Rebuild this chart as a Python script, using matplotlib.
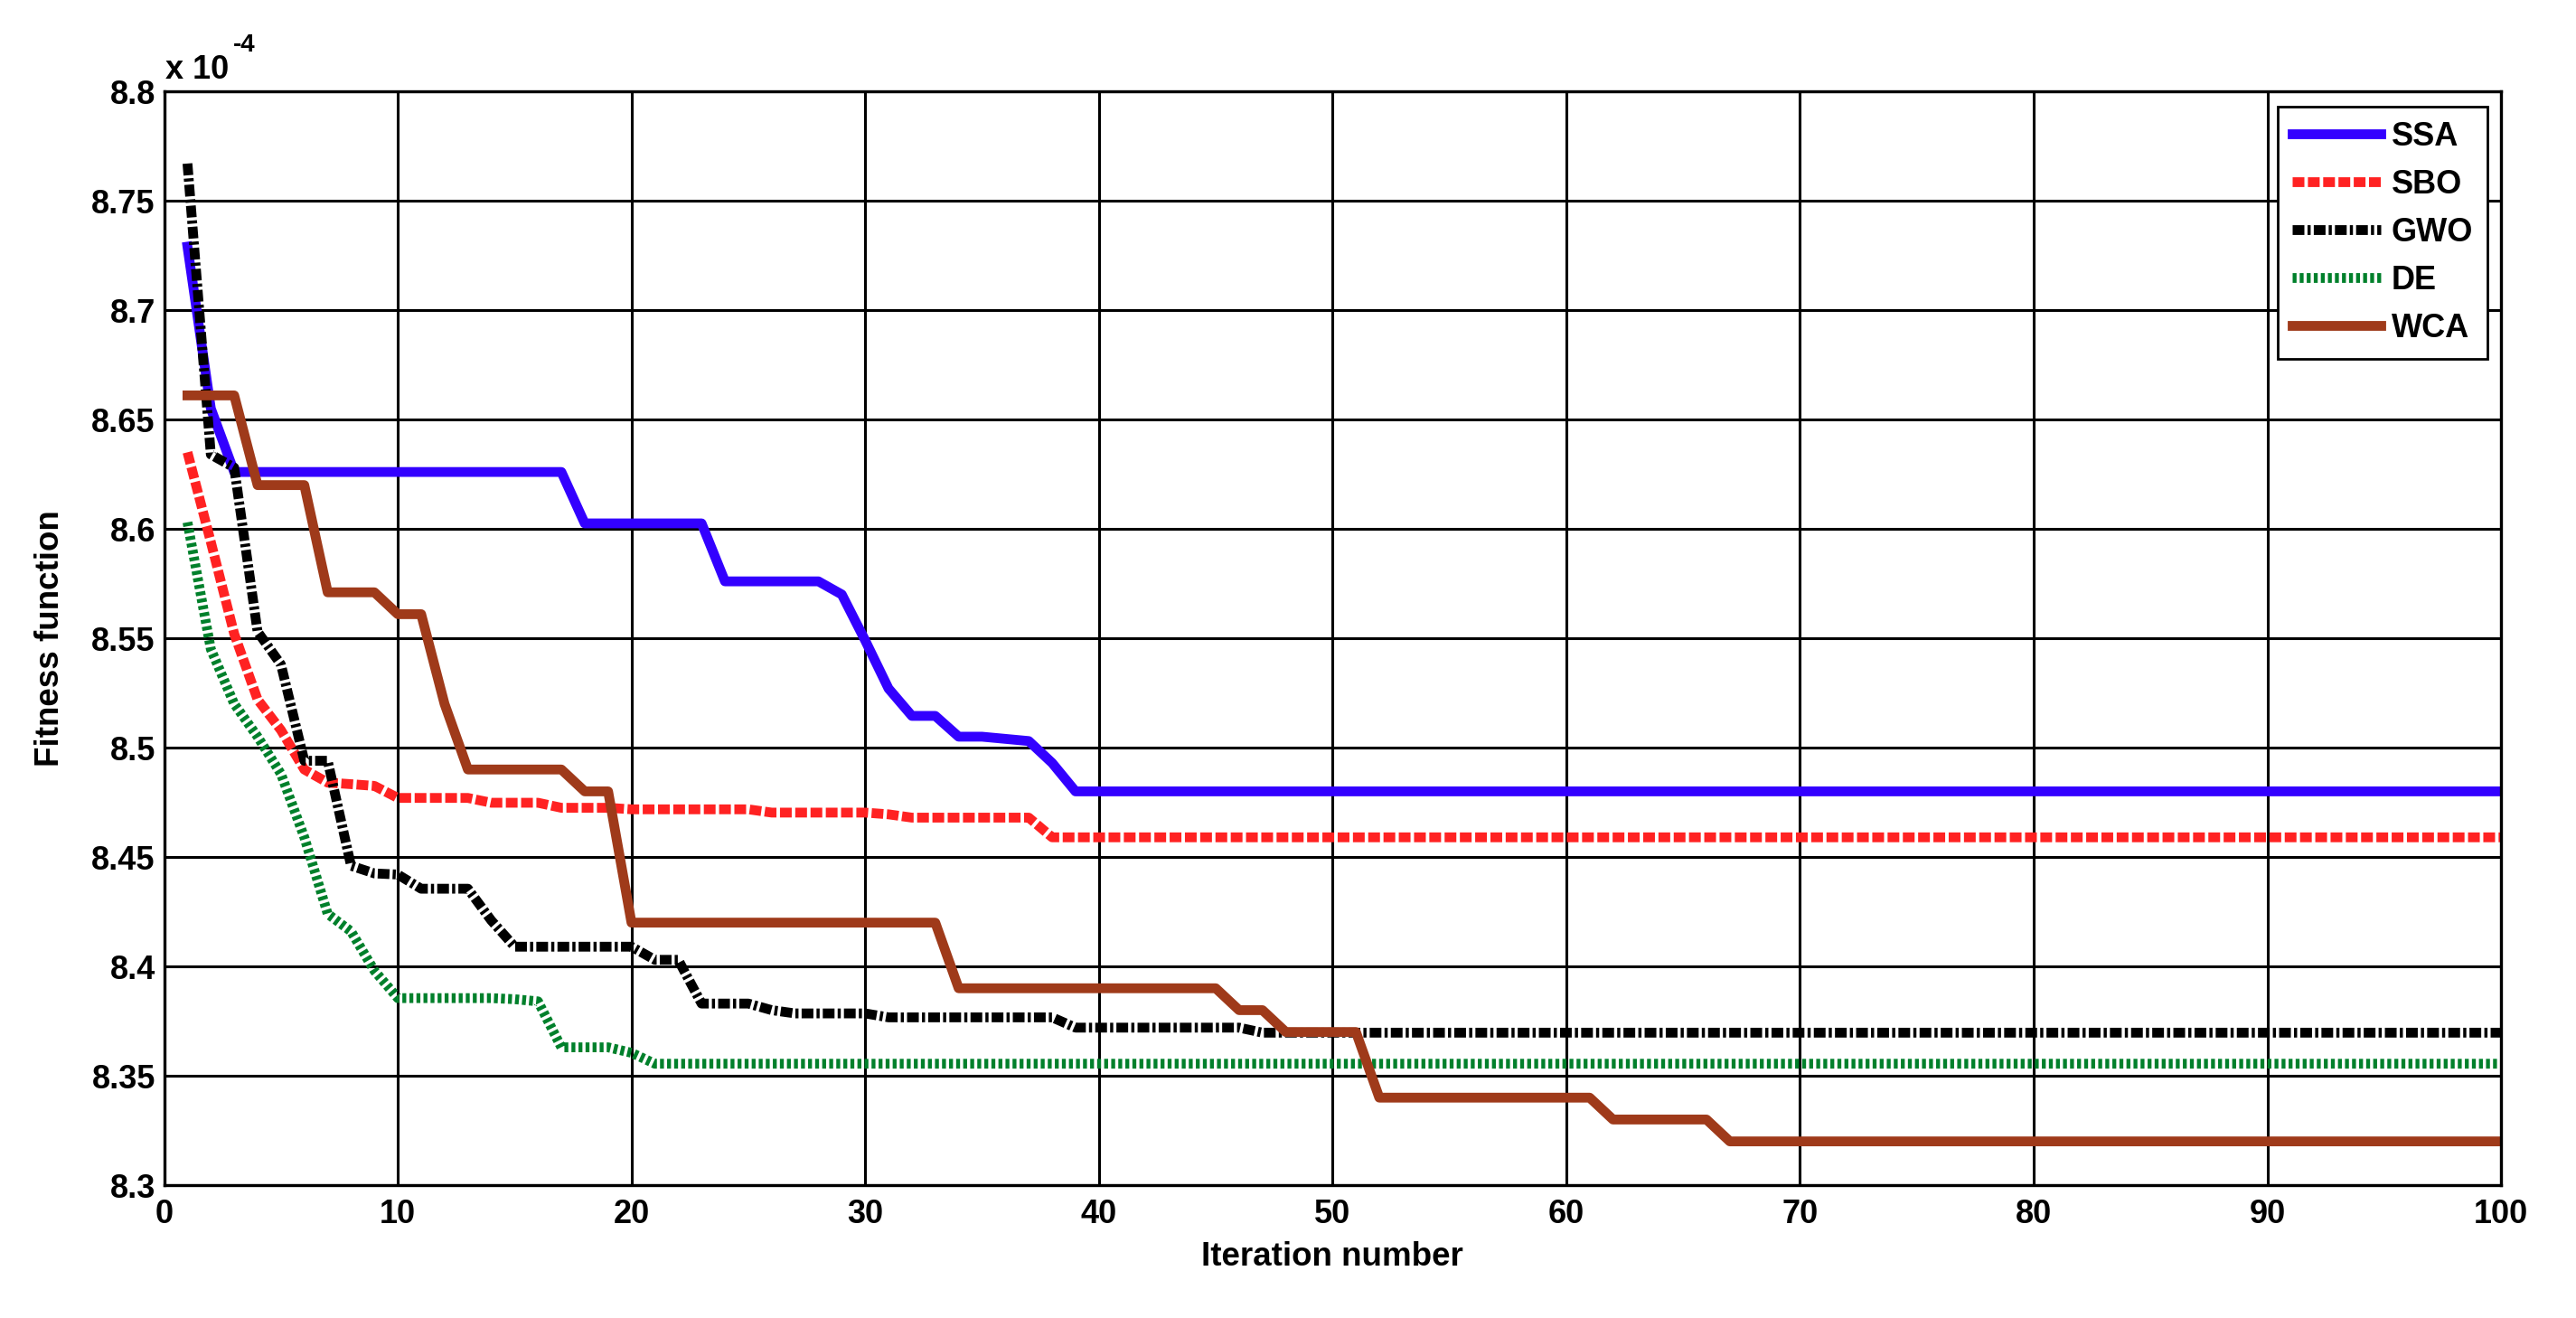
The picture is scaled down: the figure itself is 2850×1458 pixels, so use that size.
import matplotlib
matplotlib.use('Agg')
import matplotlib.pyplot as plt
from matplotlib.ticker import MultipleLocator, FuncFormatter

plt.rcParams['font.family'] = ['Liberation Sans', 'DejaVu Sans']
plt.rcParams['font.weight'] = 'bold'

# fitness values, in units of 1e-4, one per iteration (1..100)
iters = list(range(1, 101))

ssa = ([8.729, 8.655] + [8.626] * 15 + [8.6025] * 6 + [8.576] * 5
       + [8.570, 8.549, 8.527, 8.5145, 8.5145, 8.505, 8.505, 8.504, 8.503, 8.493]
       + [8.480] * 62)

sbo = ([8.635, 8.594, 8.552, 8.522, 8.508, 8.490, 8.484, 8.4833, 8.4825]
       + [8.477] * 4 + [8.4748] * 3 + [8.4725] * 3 + [8.4718] * 6
       + [8.4703] * 5 + [8.4695] + [8.468] * 6 + [8.459] * 63)

gwo = ([8.767, 8.634, 8.628, 8.553, 8.538, 8.494, 8.494, 8.446, 8.4425, 8.442]
       + [8.4355] * 3 + [8.421] + [8.409] * 6 + [8.403] * 2 + [8.383] * 3
       + [8.380] + [8.3785] * 4 + [8.3767] * 8 + [8.372] * 8 + [8.3697] * 54)

de = ([8.603, 8.545, 8.520, 8.505, 8.488, 8.459, 8.424, 8.416, 8.398]
      + [8.3855] * 5 + [8.385, 8.384] + [8.363] * 3 + [8.3605] + [8.3555] * 80)

wca = ([8.661] * 3 + [8.620] * 3 + [8.571] * 3 + [8.561] * 2 + [8.520]
       + [8.490] * 5 + [8.480] * 2 + [8.420] * 14 + [8.390] * 12 + [8.380] * 2
       + [8.370] * 4 + [8.340] * 10 + [8.330] * 5 + [8.320] * 34)

names = ['SSA', 'SBO', 'GWO', 'DE', 'WCA']

fig = plt.figure(figsize=(28.5, 14.58), dpi=100)
ax = fig.add_axes([0.0637, 0.1008, 0.9072, 0.8299])

lw = 7.8
ax.plot(iters, ssa, color='#3300FF', lw=lw, label=names[0])
ax.plot(iters, sbo, color='#FF2222', lw=lw, dashes=(1.2, 0.36), label=names[1])
ax.plot(iters, gwo, color='black', lw=lw, dashes=(1.2, 0.32, 0.32, 0.32), label=names[2])
ax.plot(iters, de, color='#00802B', lw=lw, dashes=(0.4, 0.32), label=names[3])
ax.plot(iters, wca, color='#9F3A1A', lw=lw, label=names[4])

ax.set_xlim(0, 100)
ax.set_ylim(8.3, 8.8)
ax.xaxis.set_major_locator(MultipleLocator(10))
ax.yaxis.set_major_locator(MultipleLocator(0.05))
ax.yaxis.set_major_formatter(FuncFormatter(lambda v, p: f'{round(v, 2):g}'))
ax.grid(True, color='black', lw=2.2)
ax.set_axisbelow(True)
for s in ax.spines.values():
    s.set_linewidth(2.4)
ax.tick_params(length=0, labelsize=26, pad=11)
ax.tick_params(axis='y', pad=7)

ax.set_xlabel('Iteration number', fontsize=26.5, fontweight='bold')
ax.set_ylabel('Fitness function', fontsize=26.5, fontweight='bold')
ax.xaxis.set_label_coords(0.5, -0.0735)
ax.xaxis.label.set_verticalalignment('baseline')
ax.yaxis.set_label_coords(-0.0489, 0.5)
ax.yaxis.label.set_verticalalignment('center')

ax.text(0.0006, 1.0116, 'x 10', transform=ax.transAxes, fontsize=26,
        fontweight='bold', va='baseline', ha='left')
ax.text(0.0296, 1.0364, '-4', transform=ax.transAxes, fontsize=20,
        fontweight='bold', va='baseline', ha='left')

leg = ax.legend(loc='upper right', bbox_to_anchor=(0.9942, 0.986), borderaxespad=0,
                fontsize=26, handlelength=2.72, handletextpad=0.33,
                labelspacing=0.5, borderpad=0.44, fancybox=False, framealpha=1)
leg.get_frame().set_edgecolor('black')
leg.get_frame().set_linewidth(2)

fig.savefig('out.png', dpi=100, facecolor='white')
